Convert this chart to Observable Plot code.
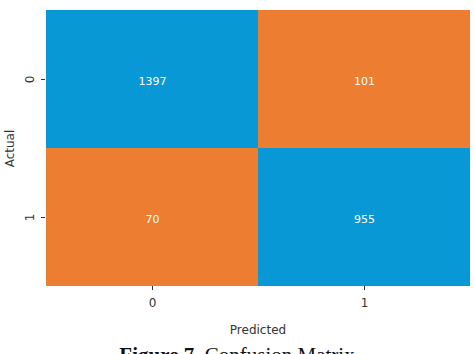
<!DOCTYPE html>
<html><head><meta charset="utf-8">
<script src="https://cdn.jsdelivr.net/npm/d3@7"></script>
<script src="https://cdn.jsdelivr.net/npm/@observablehq/plot@0.6"></script>
<style>
body{margin:0;background:#fff;overflow:hidden;width:474px;height:354px}
#cap{font-family:"Liberation Serif","DejaVu Serif",serif;font-size:21px;text-align:center;width:474px;line-height:24px;margin-top:3px;color:#111}
</style></head><body>
<div id="chart"></div>
<div id="cap"><b>Figure 7</b>. Confusion Matrix</div>
<script>
const actual = ["0","0","1","1"];
const predicted = ["0","1","0","1"];
const counts = [1397, 101, 70, 955];
const labels = ["0","1"];
const data = counts.map((v,i)=>({actual:actual[i], predicted:predicted[i], value:v}));
const chart = Plot.plot({
  width: 474, height: 340,
  marginTop: 10, marginBottom: 54, marginLeft: 45, marginRight: 4,
  style: {fontFamily: "DejaVu Sans, sans-serif", fontSize: "11px", color: "#333"},
  x: {domain: labels, padding: 0},
  y: {domain: labels, padding: 0},
  color: {type: "threshold", domain: [500], range: ["#ed7d31", "#0898d6"]},
  marks: [
    Plot.cell(data, {x: "predicted", y: "actual", fill: "value", inset: 0}),
    Plot.text(data, {x: "predicted", y: "actual", text: d => String(d.value), fill: "white", fontSize: 11, dy: 2}),
    Plot.axisX({label: "Predicted", labelAnchor: "center", labelArrow: false, labelOffset: 47, tickSize: 4, tickPadding: 8, fontSize: 12}),
    Plot.axisY({label: "Actual", labelAnchor: "center", labelArrow: false, labelOffset: 40, tickSize: 4, tickPadding: 8, tickRotate: -90, fontSize: 12})
  ]
});
document.getElementById("chart").append(chart);
</script>
</body></html>
